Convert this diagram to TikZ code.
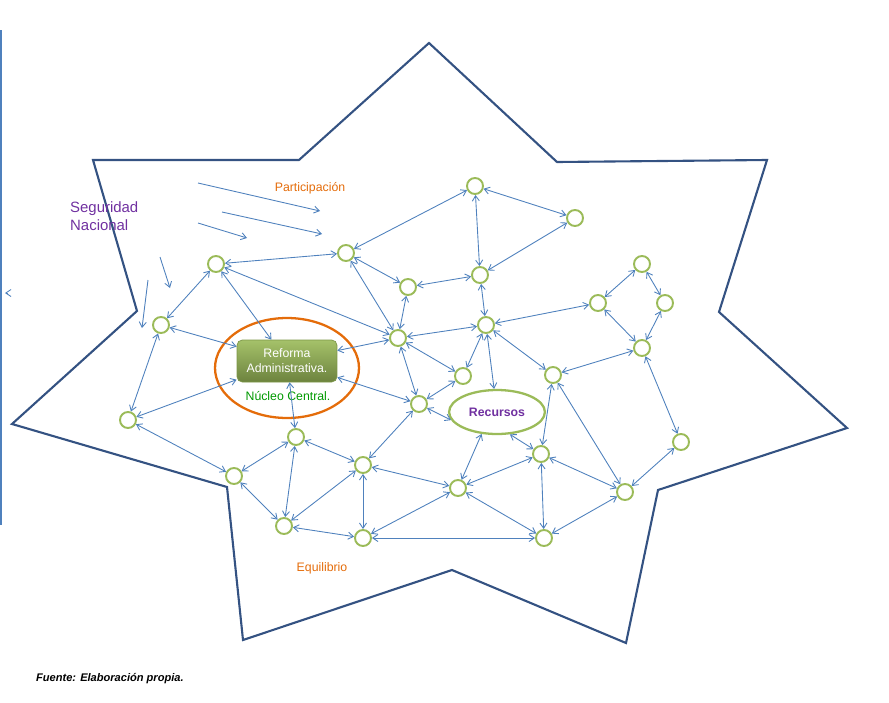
\documentclass[tikz,border=0pt]{standalone}
\usepackage{fontspec}
\setmainfont{Liberation Sans}
\usetikzlibrary{arrows.meta,shapes.geometric}
\definecolor{edge}{RGB}{79,129,189}
\definecolor{olive}{RGB}{155,187,89}
\definecolor{star}{RGB}{52,82,130}
\definecolor{orng}{RGB}{228,108,10}
\definecolor{purp}{RGB}{112,48,160}
\begin{document}
\begin{tikzpicture}[x=0.02cm,y=-0.02cm,
  c/.style={circle,draw=olive,line width=1.1pt,fill=white,minimum size=0.32cm,inner sep=0},
  e/.style={draw=edge,line width=0.5pt,{Straight Barb[length=3pt,width=4pt]}-{Straight Barb[length=3pt,width=4pt]}},
  o/.style={draw=edge,line width=0.5pt,-{Straight Barb[length=3pt,width=4pt]}},
  lab/.style={font=\fontsize{7}{8}\selectfont}]
\useasboundingbox (0,0) rectangle (889,703);
\draw[star,line width=1.2pt] (429,43)--(557,162)--(767,160)--(719,312)--(847,428)--(658,490)--(626,643)--(452,570)--(243,640)--(227,487)--(12,424)--(137,311)--(93,160)--(299,160)--cycle;
\draw[edge,line width=0.6pt] (1,30)--(1,525);
\coordinate (lt) at (5,293); \draw[o] (8,293)--(lt);
\node[draw=orng,line width=1.3pt,ellipse,minimum width=2.88cm,minimum height=2.0cm] (orb) at (287,368) {};
\node[draw=olive!80!black,rounded corners=3pt,top color=olive!90!white,bottom color=olive!70!black,text=white,minimum width=2.0cm,minimum height=0.84cm,align=center,inner sep=1pt,font=\fontsize{7}{8.5}\selectfont] (ref) at (287,361) {Reforma\\Administrativa.};
\node[text=green!60!black,font=\fontsize{7}{8}\selectfont] (nuc) at (288,396) {Núcleo Central.};
\node[ellipse,draw=olive,line width=1.3pt,fill=white,minimum width=1.88cm,minimum height=0.88cm,text=purp,font=\fontsize{7}{8}\selectfont\bfseries] (rec) at (497,412) {Recursos};
\foreach \n/\x/\y in {1/475/186,2/575/218,3/346/253,4/216/264,5/480/275,6/408/287,7/642/264,8/598/303,9/665/303,10/161/325,11/486/325,12/398/338,13/642/348,14/463/376,15/553/375,16/419/404,17/128/420,18/296/437,19/681/442,20/541/454,21/234/476,22/363/465,23/458/488,24/625/492,25/284/526,26/363/538,27/544/538}
  \node[c] (n\n) at (\x,\y) {};
\foreach \a/\b in {n3/n1,n3/n4,n3/n6,n3/n12,n4/n10,n4/ref,n4/n12,n10/ref,n10/n17,n17/ref,n17/n21,ref/n12,ref/n16,ref/n18,n1/n5,n1/n2,n2/n5,n5/n6,n5/n11,n6/n12,n12/n11,n12/n14,n12/n16,n11/n14,n11/rec,n11/n15,n11/n8,n8/n7,n7/n9,n8/n13,n9/n13,n13/n15,n13/n19,n15/n20,n15/n24,n14/n16,n16/rec.190,rec.300/n20,rec.235/n23,n16/n22,n18/n21,n18/n22,n18/n25,n21/n25,n22/n25,n22/n26,n22/n23,n23/n26,n23/n27,n23/n20,n20/n27,n20/n24,n24/n27,n24/n19,n25/n26,n26/n27}
  \draw[e] (\a)--(\b);
\foreach \a/\b/\c/\d in {198/183/320/211,222/212/322/234,198/223/247/238,160/257/170/288,148/280/142/328}
  {\coordinate (s) at (\a,\b); \coordinate (t) at (\c,\d); \draw[o] (s)--(t);}
\node[text=purp,align=left,anchor=west,font=\fontsize{8.5}{10}\selectfont] (seg) at (64,216) {Seguridad\\Nacional};
\node[text=orng,lab] (par) at (310,188) {Participación};
\node[text=orng,lab] (equ) at (322,568) {Equilibrio};
\node[anchor=west,font=\fontsize{6.3}{7}\selectfont\bfseries\itshape] (fue) at (30,679) {Fuente: Elaboración propia.};
\end{tikzpicture}
\end{document}
